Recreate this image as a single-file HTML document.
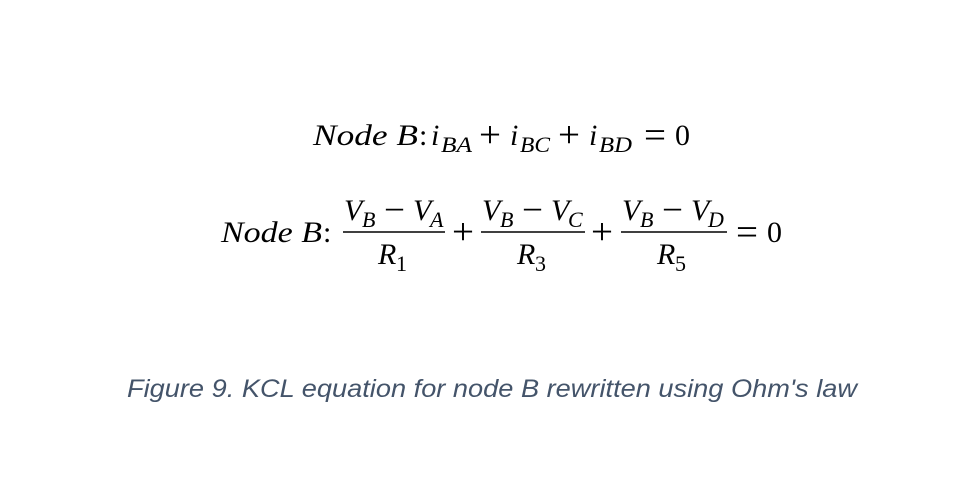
<!DOCTYPE html>
<html><head><meta charset="utf-8"><style>
html,body{margin:0;padding:0;background:#fff;}
svg{display:block}
.m{font-family:"Liberation Serif",serif;font-style:italic;font-size:30px;fill:#000}
.s{font-family:"Liberation Serif",serif;font-style:italic;font-size:22px;fill:#000}
.n{font-family:"Liberation Serif",serif;font-size:30px;fill:#000}
.o{font-family:"Liberation Serif",serif;font-size:37px;fill:#000}
.ns{font-family:"Liberation Serif",serif;font-size:22px;fill:#000}
.c{font-family:"Liberation Sans",sans-serif;font-style:italic;font-size:25px;fill:#44546A}
</style></head><body>
<svg width="973" height="484" viewBox="0 0 973 484">
<!-- line 1 -->
<text class="m" x="313" y="145" textLength="105" lengthAdjust="spacingAndGlyphs">Node B</text>
<text class="n" x="419" y="145">:</text>
<text class="m" x="431" y="145">i</text>
<text class="s" x="441" y="152" textLength="31" lengthAdjust="spacingAndGlyphs">BA</text>
<text class="o" x="479" y="147" textLength="22" lengthAdjust="spacingAndGlyphs">+</text>
<text class="m" x="510" y="145">i</text>
<text class="s" x="520" y="152" textLength="30" lengthAdjust="spacingAndGlyphs">BC</text>
<text class="o" x="558" y="147" textLength="22" lengthAdjust="spacingAndGlyphs">+</text>
<text class="m" x="589" y="145">i</text>
<text class="s" x="599" y="152" textLength="33" lengthAdjust="spacingAndGlyphs">BD</text>
<text class="o" x="644" y="147" textLength="22" lengthAdjust="spacingAndGlyphs">=</text>
<text class="n" x="675" y="145">0</text>
<!-- line 2 -->
<text class="m" x="221" y="242" textLength="101" lengthAdjust="spacingAndGlyphs">Node B</text>
<text class="n" x="323" y="242">:</text>
<text class="m" x="344" y="220">V</text>
<text class="s" x="362" y="227">B</text>
<text class="o" x="384" y="222" textLength="21" lengthAdjust="spacingAndGlyphs">−</text>
<text class="m" x="413" y="220">V</text>
<text class="s" x="430" y="227">A</text>
<line x1="343" y1="232" x2="445" y2="232" stroke="#000" stroke-width="1.5"/>
<text class="m" x="378" y="264">R</text>
<text class="ns" x="396" y="271">1</text>
<text class="o" x="452" y="244" textLength="22" lengthAdjust="spacingAndGlyphs">+</text>
<text class="m" x="482" y="220">V</text>
<text class="s" x="500" y="227">B</text>
<text class="o" x="522" y="222" textLength="21" lengthAdjust="spacingAndGlyphs">−</text>
<text class="m" x="551" y="220">V</text>
<text class="s" x="568" y="227">C</text>
<line x1="481" y1="232" x2="585" y2="232" stroke="#000" stroke-width="1.5"/>
<text class="m" x="517" y="264">R</text>
<text class="ns" x="535" y="271">3</text>
<text class="o" x="591" y="244" textLength="22" lengthAdjust="spacingAndGlyphs">+</text>
<text class="m" x="622" y="220">V</text>
<text class="s" x="640" y="227">B</text>
<text class="o" x="662" y="222" textLength="21" lengthAdjust="spacingAndGlyphs">−</text>
<text class="m" x="691" y="220">V</text>
<text class="s" x="708" y="227">D</text>
<line x1="621" y1="232" x2="727" y2="232" stroke="#000" stroke-width="1.5"/>
<text class="m" x="657" y="264">R</text>
<text class="ns" x="675" y="271">5</text>
<text class="o" x="736" y="244" textLength="22" lengthAdjust="spacingAndGlyphs">=</text>
<text class="n" x="767" y="242">0</text>
<!-- caption -->
<text class="c" x="127" y="397" textLength="730" lengthAdjust="spacingAndGlyphs">Figure 9. KCL equation for node B rewritten using Ohm's law</text>
</svg>
</body></html>
